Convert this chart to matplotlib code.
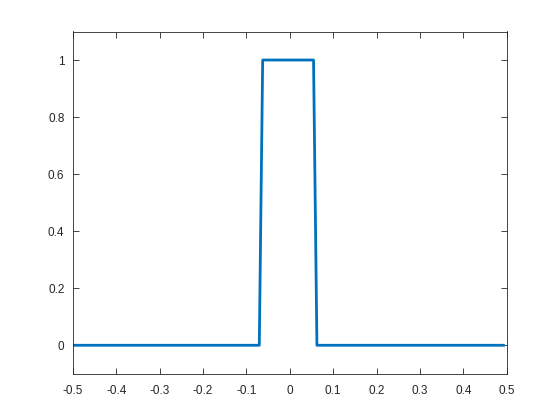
import matplotlib
matplotlib.use("Agg")
import matplotlib.pyplot as plt

# corner points of the pulse
x = [-0.5, -0.0703, -0.0625, 0.0547, 0.0625, 0.4922]
y = [0, 0, 1, 1, 0, 0]

xticks = [-0.5, -0.4, -0.3, -0.2, -0.1, 0, 0.1, 0.2, 0.3, 0.4, 0.5]
xticklabels = ["-0.5", "-0.4", "-0.3", "-0.2", "-0.1", "0", "0.1", "0.2", "0.3", "0.4", "0.5"]
yticks = [0, 0.2, 0.4, 0.6, 0.8, 1]
yticklabels = ["0", "0.2", "0.4", "0.6", "0.8", "1"]

plt.rcParams['font.family'] = ['Liberation Sans', 'DejaVu Sans']

fig = plt.figure(figsize=(5.6, 4.2), dpi=100)
ax = fig.add_axes([0.13, 0.11, 0.775, 0.815])
ax.plot(x, y, color="#0072BD", linewidth=2.0)

ax.set_xlim(-0.5, 0.5)
ax.set_ylim(-0.1, 1.1)
ax.set_xticks(xticks)
ax.set_xticklabels(xticklabels)
ax.set_yticks(yticks)
ax.set_yticklabels(yticklabels)

ax.tick_params(direction="in", length=4, width=0.6, color="#262626",
               labelcolor="#262626", labelsize=8.5, top=True, right=True)
ax.tick_params(axis="x", pad=8)
ax.tick_params(axis="y", pad=6)
for s in ax.spines.values():
    s.set_color("#262626")
    s.set_linewidth(0.6)

fig.savefig("out.png", dpi=100)
